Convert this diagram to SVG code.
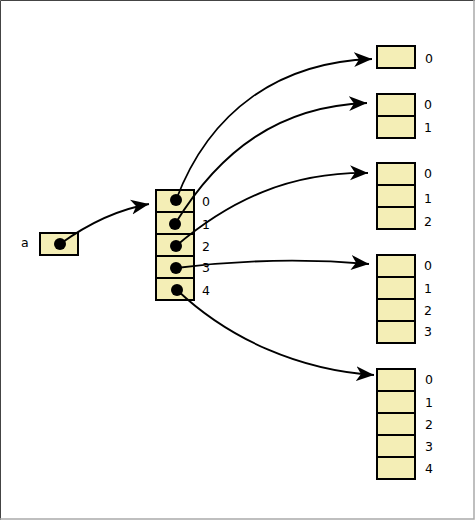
<svg xmlns="http://www.w3.org/2000/svg" width="475" height="520" viewBox="0 0 475 520">
<style>
.cell{fill:#f4eeb6;stroke:#000;stroke-width:2}
.lbl{font-family:"DejaVu Sans",sans-serif;font-size:12.5px;fill:#000}
.dot{fill:#000}
.con{fill:none;stroke:#000;stroke-width:1.8}
</style>
<defs>
<marker id="arr" markerUnits="userSpaceOnUse" markerWidth="19" markerHeight="16" refX="18" refY="7.5" orient="auto" viewBox="0 0 19 15">
<path d="M0,0 L18,7.5 L0,15 L5,7.5 Z" fill="#000"/>
</marker>
</defs>
<rect x="0" y="0" width="475" height="520" fill="#fff"/>
<path d="M0.5,520 V0.5 H475" fill="none" stroke="#444" stroke-width="1"/>
<path d="M474,0 V519 H0" fill="none" stroke="#aaa" stroke-width="1.5"/>

<g id="var-a">
<rect class="cell" x="40" y="233" width="38" height="22"/>
<text class="lbl" x="21" y="247">a</text>
</g>

<g id="outer-array">
<rect class="cell" x="156" y="190" width="38" height="22"/>
<rect class="cell" x="156" y="212" width="38" height="22"/>
<rect class="cell" x="156" y="234" width="38" height="22"/>
<rect class="cell" x="156" y="256" width="38" height="22"/>
<rect class="cell" x="156" y="278" width="38" height="22"/>
<text class="lbl" x="202" y="206">0</text>
<text class="lbl" x="202" y="229">1</text>
<text class="lbl" x="202" y="251">2</text>
<text class="lbl" x="202" y="272">3</text>
<text class="lbl" x="202" y="295">4</text>
</g>

<g id="array0">
<rect class="cell" x="377" y="46" width="38" height="22"/>
<text class="lbl" x="425" y="63">0</text>
</g>

<g id="array1">
<rect class="cell" x="377" y="94" width="38" height="22"/>
<rect class="cell" x="377" y="116" width="38" height="22"/>
<text class="lbl" x="424" y="109">0</text>
<text class="lbl" x="424" y="132">1</text>
</g>

<g id="array2">
<rect class="cell" x="377" y="163" width="38" height="22"/>
<rect class="cell" x="377" y="185" width="38" height="22"/>
<rect class="cell" x="377" y="207" width="38" height="22"/>
<text class="lbl" x="424" y="178">0</text>
<text class="lbl" x="424" y="203">1</text>
<text class="lbl" x="424" y="226">2</text>
</g>

<g id="array3">
<rect class="cell" x="377" y="255" width="38" height="22"/>
<rect class="cell" x="377" y="277" width="38" height="22"/>
<rect class="cell" x="377" y="299" width="38" height="22"/>
<rect class="cell" x="377" y="321" width="38" height="22"/>
<text class="lbl" x="424" y="270">0</text>
<text class="lbl" x="424" y="293">1</text>
<text class="lbl" x="424" y="315">2</text>
<text class="lbl" x="424" y="336">3</text>
</g>

<g id="array4">
<rect class="cell" x="377" y="369" width="38" height="22"/>
<rect class="cell" x="377" y="391" width="38" height="22"/>
<rect class="cell" x="377" y="413" width="38" height="22"/>
<rect class="cell" x="377" y="435" width="38" height="22"/>
<rect class="cell" x="377" y="457" width="38" height="22"/>
<text class="lbl" x="425" y="384">0</text>
<text class="lbl" x="425" y="407">1</text>
<text class="lbl" x="425" y="429">2</text>
<text class="lbl" x="425" y="451">3</text>
<text class="lbl" x="425" y="473">4</text>
</g>

<g id="connectors">
<path class="con" marker-end="url(#arr)" d="M60,244 C85,226 115,210 149,204"/>
<path class="con" marker-end="url(#arr)" d="M176,200 C210,110 280,62 372,59"/>
<path class="con" marker-end="url(#arr)" d="M175,224 C220,150 280,106 367,103"/>
<path class="con" marker-end="url(#arr)" d="M176,246 C230,200 290,172 368,173"/>
<path class="con" marker-end="url(#arr)" d="M176,268 C240,260 300,258 369,264"/>
<path class="con" marker-end="url(#arr)" d="M177,290 C230,340 300,370 374,375"/>
<circle class="dot" cx="60" cy="244" r="6"/>
<circle class="dot" cx="176" cy="200" r="6"/>
<circle class="dot" cx="175" cy="224" r="6"/>
<circle class="dot" cx="176" cy="246" r="6"/>
<circle class="dot" cx="176" cy="268" r="6"/>
<circle class="dot" cx="177" cy="290" r="6"/>
</g>
</svg>
